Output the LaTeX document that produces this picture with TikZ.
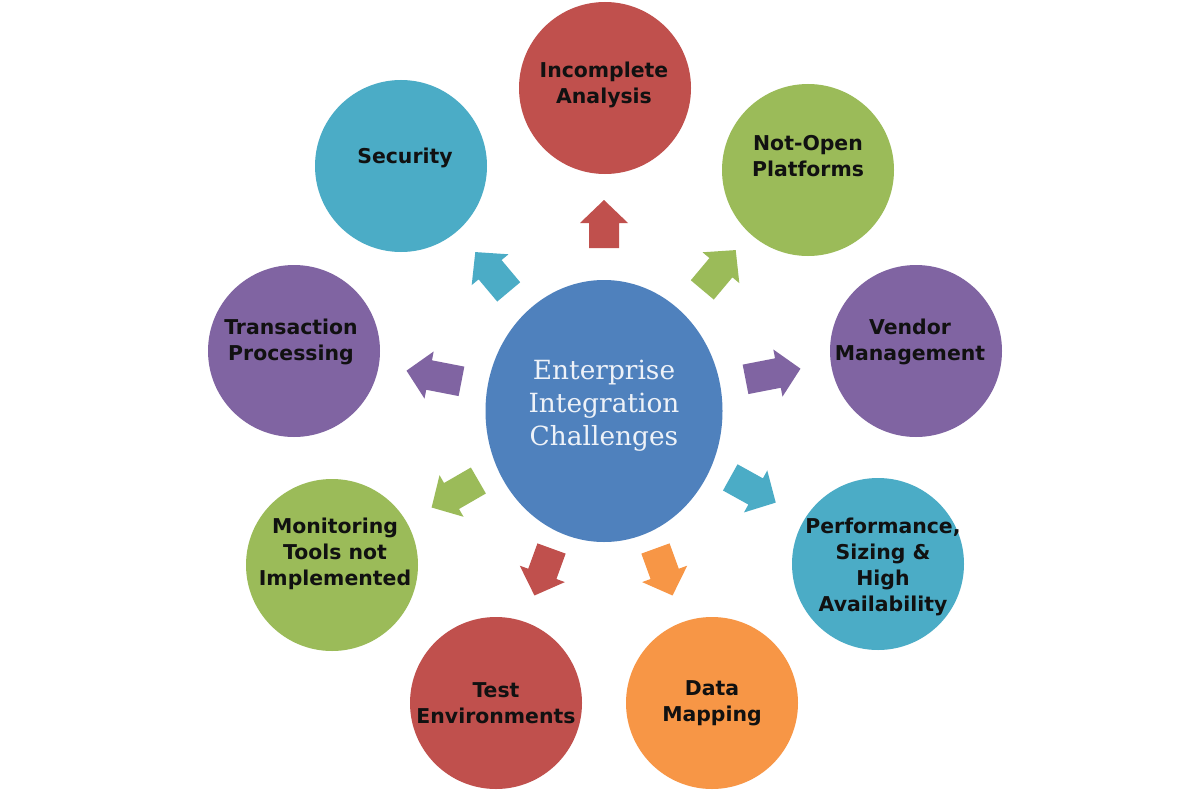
\documentclass[tikz,border=0pt]{standalone}
\usepackage{fontspec}
\usetikzlibrary{shapes.geometric}
\setmainfont{DejaVu Sans}
\newfontfamily\ctrfont{DejaVu Serif}
\definecolor{cRed}{HTML}{C0504D}
\definecolor{cGreen}{HTML}{9BBB59}
\definecolor{cPurple}{HTML}{8064A2}
\definecolor{cAqua}{HTML}{4BACC6}
\definecolor{cOrange}{HTML}{F79646}
\definecolor{cBlue}{HTML}{4F81BD}
\definecolor{cText}{HTML}{111111}
\definecolor{cLight}{HTML}{EEF2F8}
\newcommand\blkarrow[5]{% x, y, angle, colour, half length
  \fill[#4, shift={(#1,#2)}, rotate=#3]
    (-#5,-15) -- ({#5-23},-15) -- ({#5-23},-24) -- (#5,0) -- ({#5-23},24) -- ({#5-23},15) -- (-#5,15) -- cycle;}
\begin{document}
\begin{tikzpicture}[x=1bp,y=-1bp,
  bubble/.style={circle, minimum size=172bp, inner sep=0pt},
  lbl/.style={align=center, font=\bfseries\fontsize{20.5}{26}\selectfont, text=cText, inner sep=0pt},
  ctr/.style={ellipse, minimum width=237bp, minimum height=262bp, inner sep=0pt, fill=cBlue}]
\useasboundingbox (0,0) rectangle (1200,797);
\fill[white] (0,0) rectangle (1200,797);

% centre
\node[ctr] (center) at (604,411) {};
\node[align=center, text=cLight, font=\ctrfont\fontsize{26.5}{33}\selectfont, inner sep=0pt] (centertext) at (604,406) {Enterprise\\Integration\\Challenges};

% outer circles
\node[bubble, fill=cRed]    (c1) at (605,88)  {};
\node[bubble, fill=cGreen]  (c2) at (808,170) {};
\node[bubble, fill=cPurple] (c3) at (916,351) {};
\node[bubble, fill=cAqua]   (c4) at (878,564) {};
\node[bubble, fill=cOrange] (c5) at (712,703) {};
\node[bubble, fill=cRed]    (c6) at (496,703) {};
\node[bubble, fill=cGreen]  (c7) at (332,565) {};
\node[bubble, fill=cPurple] (c8) at (294,351) {};
\node[bubble, fill=cAqua]   (c9) at (401,166) {};

% labels
\node[lbl] (t1) at (604,85)  {Incomplete\\Analysis};
\node[lbl] (t2) at (808,156) {Not-Open\\Platforms};
\node[lbl] (t3) at (910,342) {Vendor\\Management};
\node[lbl] (t4) at (883,567) {Performance,\\Sizing \&\\High\\Availability};
\node[lbl] (t5) at (712,703) {Data\\Mapping};
\node[lbl] (t6) at (496,703) {Test\\Environments};
\node[lbl] (t7) at (335,554) {Monitoring\\Tools not\\Implemented};
\node[lbl] (t8) at (291,342) {Transaction\\Processing};
\node[lbl] (t9) at (405,158) {Security};

% block arrows
\blkarrow{604}{224}{90}{cRed}{24}
\blkarrow{719}{270}{50}{cGreen}{26}
\blkarrow{773}{374}{11}{cPurple}{28}
\blkarrow{753}{490}{-29}{cAqua}{26}
\blkarrow{664}{572}{-70}{cOrange}{25}
\blkarrow{543}{572}{-110}{cRed}{25}
\blkarrow{455}{494}{-150}{cGreen}{27}
\blkarrow{434}{376}{169}{cPurple}{28}
\blkarrow{492}{272}{130}{cAqua}{26}
\end{tikzpicture}
\end{document}
